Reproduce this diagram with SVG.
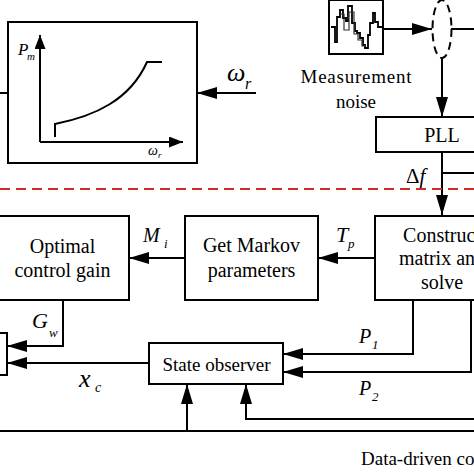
<svg xmlns="http://www.w3.org/2000/svg" width="474" height="474" viewBox="0 0 474 474">
<defs>
<marker id="ah" viewBox="0 0 20 12" refX="20" refY="6" markerWidth="20" markerHeight="12" markerUnits="userSpaceOnUse" orient="auto"><path d="M0,0 L20,6 L0,12 z" fill="#000"/></marker>
<marker id="ah2" viewBox="0 0 14 11" refX="14" refY="5.5" markerWidth="14" markerHeight="11" markerUnits="userSpaceOnUse" orient="auto"><path d="M0,0 L14,5.5 L0,11 z" fill="#000"/></marker>
</defs>
<style>
.box{fill:#fff;stroke:#000;stroke-width:2}
.ln{fill:none;stroke:#000;stroke-width:2}
.arr{marker-end:url(#ah)}
text{font-family:'Liberation Serif','DejaVu Serif',serif;fill:#000}
.t{font-size:19px}
.b{font-size:20px}
.m{font-style:italic}
</style>
<rect width="474" height="474" fill="#fff"/>
<g id="connectors">
<line class="ln" x1="0" y1="93" x2="8" y2="93"/>
<line class="ln arr" x1="256" y1="93" x2="197" y2="93"/>
<line class="ln arr" x1="383" y1="29" x2="432" y2="29"/>
<line class="ln" x1="451" y1="29" x2="474" y2="29"/>
<line class="ln arr" x1="442" y1="58" x2="442" y2="117"/>
<line class="ln arr" x1="442" y1="152" x2="442" y2="215"/>
<line class="ln" x1="442" y1="173" x2="474" y2="173"/>
<line x1="0" y1="189" x2="474" y2="189" stroke="#d42a2a" stroke-width="2" stroke-dasharray="10,6"/>
<line class="ln arr" x1="375" y1="258" x2="318" y2="258"/>
<line class="ln arr" x1="185" y1="258" x2="129" y2="258"/>
<polyline class="ln arr" points="63,300 63,346 7,346"/>
<line class="ln arr" x1="149" y1="363" x2="7" y2="363"/>
<polyline class="ln arr" points="413,300 413,354 283,354"/>
<polyline class="ln arr" points="471,300 471,372 283,372"/>
<line class="ln" x1="0" y1="431" x2="474" y2="431"/>
<line class="ln arr" x1="187" y1="431" x2="187" y2="384"/>
<polyline class="ln arr" points="474,419 246,419 246,384"/>
</g>
<g id="pm-curve">
<rect class="box" x="8" y="22" width="189" height="141"/>
<line class="ln" x1="40" y1="142" x2="40" y2="35" marker-end="url(#ah2)"/>
<line class="ln" x1="40" y1="142" x2="183" y2="142" marker-end="url(#ah2)"/>
<path class="ln" d="M55,137 L55,124 C95,116 130,100 147,62 L162,62"/>
<text class="m" x="18" y="55" font-size="17">P</text>
<text class="m" x="27" y="60" font-size="11">m</text>
<text class="m" x="148" y="155" font-size="14">ω</text>
<text class="m" x="158" y="158" font-size="9">r</text>
</g>
<g id="omega-r-label">
<text class="m" x="227" y="81" font-size="26">ω</text>
<text class="m" x="245" y="89" font-size="16">r</text>
</g>
<g id="noise">
<rect class="box" x="329" y="0" width="54" height="54"/>
<polyline fill="none" stroke="#000" stroke-width="1.8" points="331,27 335,27 335,42 337,42 337,17 340,17 340,10 343,10 343,18 346,18 346,21 348,21 348,6 352,6 352,23 355,23 355,31 357,31 357,33 360,33 360,38 363,38 363,45 365,45 365,48 368,48 368,35 370,35 370,23 373,23 373,13 375,13 375,22 378,22 378,27 382,27"/>
<polyline fill="none" stroke="#333" stroke-width="1.2" points="341,14 344,14 344,30 349,30 349,12 354,12 354,34 358,34 358,40 362,40 362,46 366,46"/>
<text class="t" x="356" y="83" text-anchor="middle" textLength="111">Measurement</text>
<text class="t" x="356" y="108" text-anchor="middle">noise</text>
</g>
<g id="sampler">
<ellipse cx="442" cy="29" rx="9.5" ry="29" fill="none" stroke="#000" stroke-width="2" stroke-dasharray="8,5"/>
</g>
<g id="pll">
<rect class="box" x="376" y="117" width="110" height="35"/>
<text class="b" x="442" y="142" text-anchor="middle">PLL</text>
<text x="406" y="183" font-size="21">Δ<tspan font-style="italic">f</tspan></text>
</g>
<g id="construct">
<rect class="box" x="375" y="216" width="110" height="84"/>
<text class="b" x="442" y="242" text-anchor="middle">Construct</text>
<text class="b" x="442" y="265" text-anchor="middle">matrix and</text>
<text class="b" x="442" y="289" text-anchor="middle">solve</text>
<text class="m" x="336" y="242" font-size="22">T</text>
<text class="m" x="348" y="248" font-size="13">p</text>
</g>
<g id="markov">
<rect class="box" x="185" y="216" width="133" height="84"/>
<text class="b" x="251.5" y="252" text-anchor="middle">Get Markov</text>
<text class="b" x="251.5" y="277" text-anchor="middle">parameters</text>
<text class="m" x="143" y="242" font-size="20">M</text>
<text class="m" x="164" y="248" font-size="13">i</text>
</g>
<g id="optimal">
<rect class="box" x="-2" y="216" width="131" height="84"/>
<text class="b" x="62.5" y="253" text-anchor="middle">Optimal</text>
<text class="b" x="62.5" y="277" text-anchor="middle">control gain</text>
<text class="m" x="32" y="328" font-size="22">G</text>
<text class="m" x="49" y="337" font-size="13">w</text>
</g>
<g id="left-box">
<rect class="box" x="-5" y="333" width="12" height="42"/>
<text class="m" x="79" y="387" font-size="26">x</text>
<text class="m" x="95" y="392" font-size="14">c</text>
</g>
<g id="observer">
<rect class="box" x="149" y="343" width="134" height="41"/>
<text class="t" x="216.5" y="371" text-anchor="middle">State observer</text>
<text class="m" x="359" y="343" font-size="20">P</text>
<text class="m" x="372" y="349" font-size="13">1</text>
<text class="m" x="359" y="395" font-size="20">P</text>
<text class="m" x="372" y="401" font-size="13">2</text>
</g>
<g id="caption">
<text class="t" x="361" y="465">Data-driven co</text>
</g>
</svg>
